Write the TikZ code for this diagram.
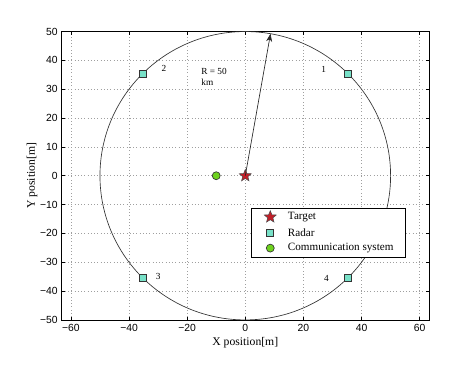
\documentclass[tikz,border=0pt]{standalone}
\usepackage{fontspec}
\setmainfont{Liberation Serif}
\newfontfamily\ticksfont{Liberation Sans}
\usetikzlibrary{shapes.geometric,positioning,arrows.meta}

\definecolor{radarfill}{RGB}{120,225,200}
\definecolor{targetred}{RGB}{195,30,40}
\definecolor{commgreen}{RGB}{110,210,30}

\tikzset{
    gridline/.style={gray!75, dotted, line width=0.45pt},
    radar/.style={rectangle, draw=black!80, fill=radarfill, line width=0.6pt, minimum size=5.2pt, inner sep=0pt},
    target/.style={star, star points=5, star point ratio=2.3, draw=black!70, fill=targetred, line width=0.4pt, minimum size=9.5pt, inner sep=0pt},
    comm/.style={circle, draw=black!80, fill=commgreen, line width=0.5pt, minimum size=6pt, inner sep=0pt},
    ticklabel/.style={font=\ticksfont\fontsize{7.8}{9}\selectfont, inner sep=1.5pt},
    radarnum/.style={font=\fontsize{7}{8}\selectfont, inner sep=0pt},
    legtext/.style={font=\fontsize{8.4}{10}\selectfont, anchor=west, inner sep=0pt}
}

\begin{document}
\begin{tikzpicture}[x=0.077cm, y=0.0764cm]
    \useasboundingbox (-84.4,-65.66) rectangle (78.7,60.94);

    % Rejilla
    \foreach \x in {-60,-40,...,60} {
        \draw[gridline] (\x,-50) -- (\x,50);
    }
    \foreach \y in {-40,-30,...,40} {
        \draw[gridline] (-63.2,\y) -- (63.2,\y);
    }

    % Marco y marcas
    \draw[line width=0.6pt] (-63.2,-50) rectangle (63.2,50);
    \foreach \x/\t in {-60/−60,-40/−40,-20/−20,0/0,20/20,40/40,60/60} {
        \draw[line width=0.4pt] (\x,-50) -- (\x,-48.9);
        \draw[line width=0.4pt] (\x,50) -- (\x,48.9);
        \node[ticklabel, anchor=north] (xt\x) at (\x,-50.6) {\t};
    }
    \foreach \y/\t in {-50/−50,-40/−40,-30/−30,-20/−20,-10/−10,0/0,10/10,20/20,30/30,40/40,50/50} {
        \draw[line width=0.4pt] (-63.2,\y) -- (-62.1,\y);
        \draw[line width=0.4pt] (63.2,\y) -- (62.1,\y);
        \node[ticklabel, anchor=east] (yt\y) at (-63.8,\y) {\t};
    }

    % Etiquetas de los ejes
    \node[font=\fontsize{8.8}{10}\selectfont] (xlab) at (0,-57.8) {X position[m]};
    \node[font=\fontsize{8.8}{10}\selectfont, rotate=90] (ylab) at (-73.4,0) {Y position[m]};

    % Circunferencia de radio 50
    \draw[black!80, line width=0.5pt] (0,0) circle (50);
    \coordinate (rtip) at (80:50);

    % Radares
    \foreach \i/\a in {1/45,2/135,3/225,4/315} {
        \node[radar] (r\i) at (\a:50) {};
    }
    \node[radarnum] (n1) at (27,37) {1};
    \node[radarnum] (n2) at (-28,37.3) {2};
    \node[radarnum] (n3) at (-30,-35) {3};
    \node[radarnum] (n4) at (27.9,-35.6) {4};

    \node[font=\fontsize{7}{8.3}\selectfont, align=left, anchor=west, inner sep=0pt] (rlab) at (-15.2,34.1) {R = 50\\km};

    % Objetivo y sistema de comunicaciones
    \node[comm] (cs) at (-10,0) {};
    \node[target] (tg) at (0,0) {};
    \draw[-{Stealth[length=6pt,width=4.5pt]}, black!85, line width=0.5pt] (tg.center) -- (rtip);

    % Leyenda
    \draw[fill=white, line width=0.6pt] (2,-11.2) rectangle (55,-28.3);
    \node[target] (lg1) at (8.6,-14.3) {};
    \node[radar] (lg2) at (8.6,-19.7) {};
    \node[comm] (lg3) at (8.6,-25.1) {};
    \node[legtext] (lt1) at (14.6,-14.3) {Target};
    \node[legtext] (lt2) at (14.6,-19.7) {Radar};
    \node[legtext] (lt3) at (14.6,-25.1) {Communication system};
\end{tikzpicture}
\end{document}
